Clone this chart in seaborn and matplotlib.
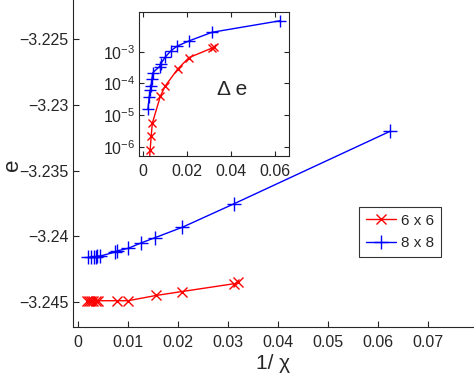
import numpy as np
import pandas as pd
import matplotlib
matplotlib.use('Agg')
import matplotlib.pyplot as plt
import seaborn as sns

# main panel: energy per site vs 1/chi
x_6 = [0.0019, 0.0023, 0.0027, 0.0031, 0.0036, 0.0041, 0.0078, 0.0100, 0.0156, 0.0208, 0.0313, 0.0321]
e_6 = [-3.2449, -3.2449, -3.2449, -3.2449, -3.2449, -3.2449, -3.2449, -3.2449, -3.2445, -3.2442, -3.2436, -3.2435]
x_8 = [0.0021, 0.0027, 0.0032, 0.0036, 0.0039, 0.0044, 0.0074, 0.0079, 0.0101, 0.0126, 0.0154, 0.0209, 0.0313, 0.0624]
e_8 = [-3.2416, -3.2416, -3.2416, -3.2416, -3.2415, -3.2415, -3.2412, -3.2411, -3.2409, -3.2405, -3.2401, -3.2393, -3.2375, -3.2320]

# inset: delta e (log scale)
de_6 = [8e-8, 1.5e-7, 3e-7, 7.6e-7, 2.2e-6, 5.5e-6, 4.0e-5, 8.3e-5, 2.8e-4, 6.5e-4, 1.3e-3, 1.4e-3]
de_8 = [1.5e-5, 3.8e-5, 6.0e-5, 8.0e-5, 1.4e-4, 2.2e-4, 3.4e-4, 4.1e-4, 6.9e-4, 1.07e-3, 1.5e-3, 2.2e-3, 4.1e-3, 9.5e-3]

labels = ['6 x 6', '8 x 8']
yticks_main = [-3.245, -3.24, -3.235, -3.23, -3.225]
ytick_labels = ['\u22123.245', '\u22123.24', '\u22123.235', '\u22123.23', '\u22123.225']
xticks_main = [0, 0.01, 0.02, 0.03, 0.04, 0.05, 0.06, 0.07]
xticks_inset = [0, 0.02, 0.04, 0.06]

red = '#ff0000'
blue = '#0000ff'

sns.set_style('ticks')
plt.rcParams['font.family'] = ['Liberation Sans', 'DejaVu Sans']
plt.rcParams['xtick.direction'] = 'in'
plt.rcParams['ytick.direction'] = 'in'
plt.rcParams['mathtext.fontset'] = 'custom'
plt.rcParams['mathtext.rm'] = 'Liberation Sans'
plt.rcParams['mathtext.it'] = 'Liberation Sans:italic'

fig = plt.figure(figsize=(4.74, 3.82), dpi=100)
ax = fig.add_axes([0.154, 0.144, 0.846, 0.856])

sns.lineplot(x=x_6, y=e_6, ax=ax, color=red, marker='x', markersize=7, markeredgewidth=1,
             markeredgecolor=red, linewidth=1, estimator=None, sort=False, label=labels[0])
sns.lineplot(x=x_8, y=e_8, ax=ax, color=blue, marker='+', markersize=10, markeredgewidth=1,
             markeredgecolor=blue, linewidth=1, estimator=None, sort=False, label=labels[1])

ax.set_xlim(-0.001, 0.0792)
ax.set_ylim(-3.2469, -3.2220)
ax.set_xticks(xticks_main)
ax.set_xticklabels(['0', '0.01', '0.02', '0.03', '0.04', '0.05', '0.06', '0.07'])
ax.set_yticks(yticks_main)
ax.set_yticklabels(ytick_labels)
ax.tick_params(axis='y', labelsize=11.5, length=4, width=0.8, pad=3)
ax.tick_params(axis='x', labelsize=11.5, length=4, width=0.8, pad=6)
ax.spines['top'].set_visible(False)
ax.spines['right'].set_visible(False)
ax.set_xlabel('1/ \u03c7', fontsize=15, labelpad=3)
ax.set_ylabel('e', fontsize=16, rotation=90, va='center')
ax.yaxis.set_label_coords(-0.150, 0.495)

leg = ax.legend(loc='upper right', bbox_to_anchor=(0.930, 0.459), bbox_transform=fig.transFigure,
                fontsize=11, frameon=True, fancybox=False, edgecolor='black',
                handlelength=2.0, borderpad=0.45, labelspacing=0.55, handletextpad=0.3,
                borderaxespad=0)
leg.get_frame().set_linewidth(0.8)

# inset
axin = fig.add_axes([0.294, 0.5924, 0.3165, 0.377])
axin.set_yscale('log')
sns.lineplot(x=x_6, y=de_6, ax=axin, color=red, marker='x', markersize=6, markeredgewidth=1,
             markeredgecolor=red, linewidth=1, estimator=None, sort=False, legend=False)
sns.lineplot(x=x_8, y=de_8, ax=axin, color=blue, marker='+', markersize=9, markeredgewidth=1,
             markeredgecolor=blue, linewidth=1, estimator=None, sort=False, legend=False)
axin.set_xlim(-0.0018, 0.0665)
axin.set_ylim(5.2e-7, 1.83e-2)
axin.set_xticks(xticks_inset)
axin.set_xticklabels(['0', '0.02', '0.04', '0.06'])
axin.set_yticks([1e-6, 1e-5, 1e-4, 1e-3])
axin.set_yticklabels(['$10^{-6}$', '$10^{-5}$', '$10^{-4}$', '$10^{-3}$'])
axin.tick_params(which='both', top=True, right=True, labelsize=11.5, width=0.8)
axin.tick_params(axis='y', pad=3)
axin.tick_params(axis='x', pad=6)
axin.tick_params(which='major', length=3.5)
axin.tick_params(which='minor', length=2)
axin.set_xlabel('')
axin.set_ylabel('')
for s in axin.spines.values():
    s.set_linewidth(0.8)
axin.text(0.62, 0.46, '\u0394 e', transform=axin.transAxes, fontsize=15, ha='center', va='center')

fig.savefig('out.png', dpi=100)
